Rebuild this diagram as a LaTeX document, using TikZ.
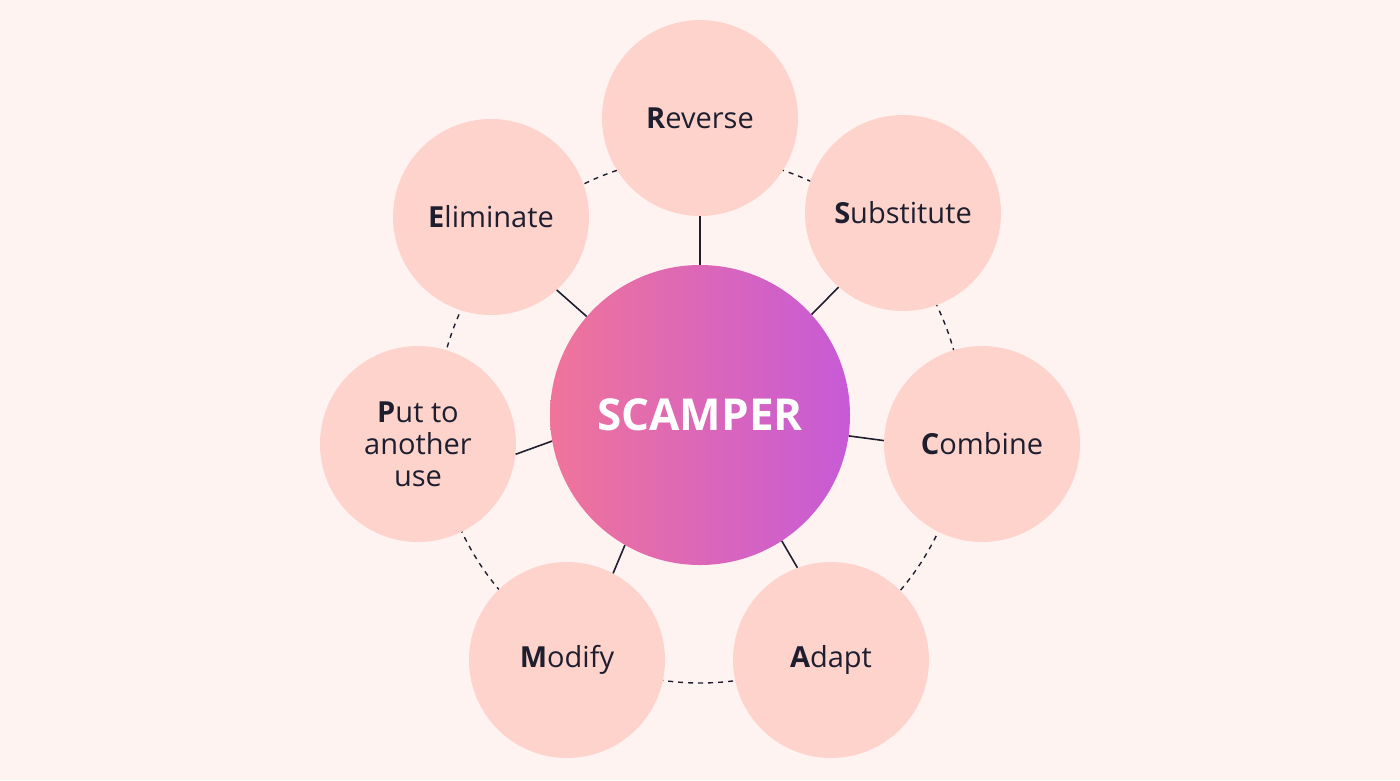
\documentclass[tikz,border=0pt]{standalone}
\usepackage{fontspec}
\setmainfont{Open Sans}
\definecolor{bg}{HTML}{FFF3F2}
\definecolor{pet}{HTML}{FDD3CC}
\definecolor{ink}{HTML}{1E1E2E}
\definecolor{gl}{HTML}{F0749A}
\definecolor{gr}{HTML}{C75AD6}
\begin{document}
\begin{tikzpicture}[x=1pt,y=-1pt,
  petal/.style={circle,fill=pet,minimum size=196pt,inner sep=0pt,align=center,text=ink,font=\fontsize{29}{32}\selectfont},
  spoke/.style={draw=ink,line width=1.6pt},
  ring/.style={draw=ink,line width=1.4pt,dash pattern=on 5pt off 5pt}]
\fill[bg] (0,0) rectangle (1400,780);
\useasboundingbox (0,0) rectangle (1400,780);
\draw[ring] (700,420) circle (263);
\node[petal] (r) at (700,118) {\textbf{R}everse};
\node[petal] (s) at (903,213) {\textbf{S}ubstitute};
\node[petal] (c) at (982,444) {\textbf{C}ombine};
\node[petal] (a) at (831,660) {\textbf{A}dapt};
\node[petal] (m) at (567,660) {\textbf{M}odify};
\node[petal] (p) at (418,444) {\textbf{P}ut to\\another\\use};
\node[petal] (e) at (491,217) {\textbf{E}liminate};
\node[circle,minimum size=300pt,inner sep=0pt,left color=gl,right color=gr,text=white,font=\fontsize{44}{50}\selectfont\bfseries] (k) at (700,415) {SCAMPER};
\draw[spoke] (k.90) -- (r.-90);
\draw[spoke] (k.42.6) -- (s.229.6);
\draw[spoke] (k.-8.3) -- (c.178);
\draw[spoke] (k.-57) -- (a.110);
\draw[spoke] (k.240.5) -- (m.62);
\draw[spoke] (k.190.6) -- (p.-6.3);
\draw[spoke] (k.139) -- (e.-48.7);
\end{tikzpicture}
\end{document}
